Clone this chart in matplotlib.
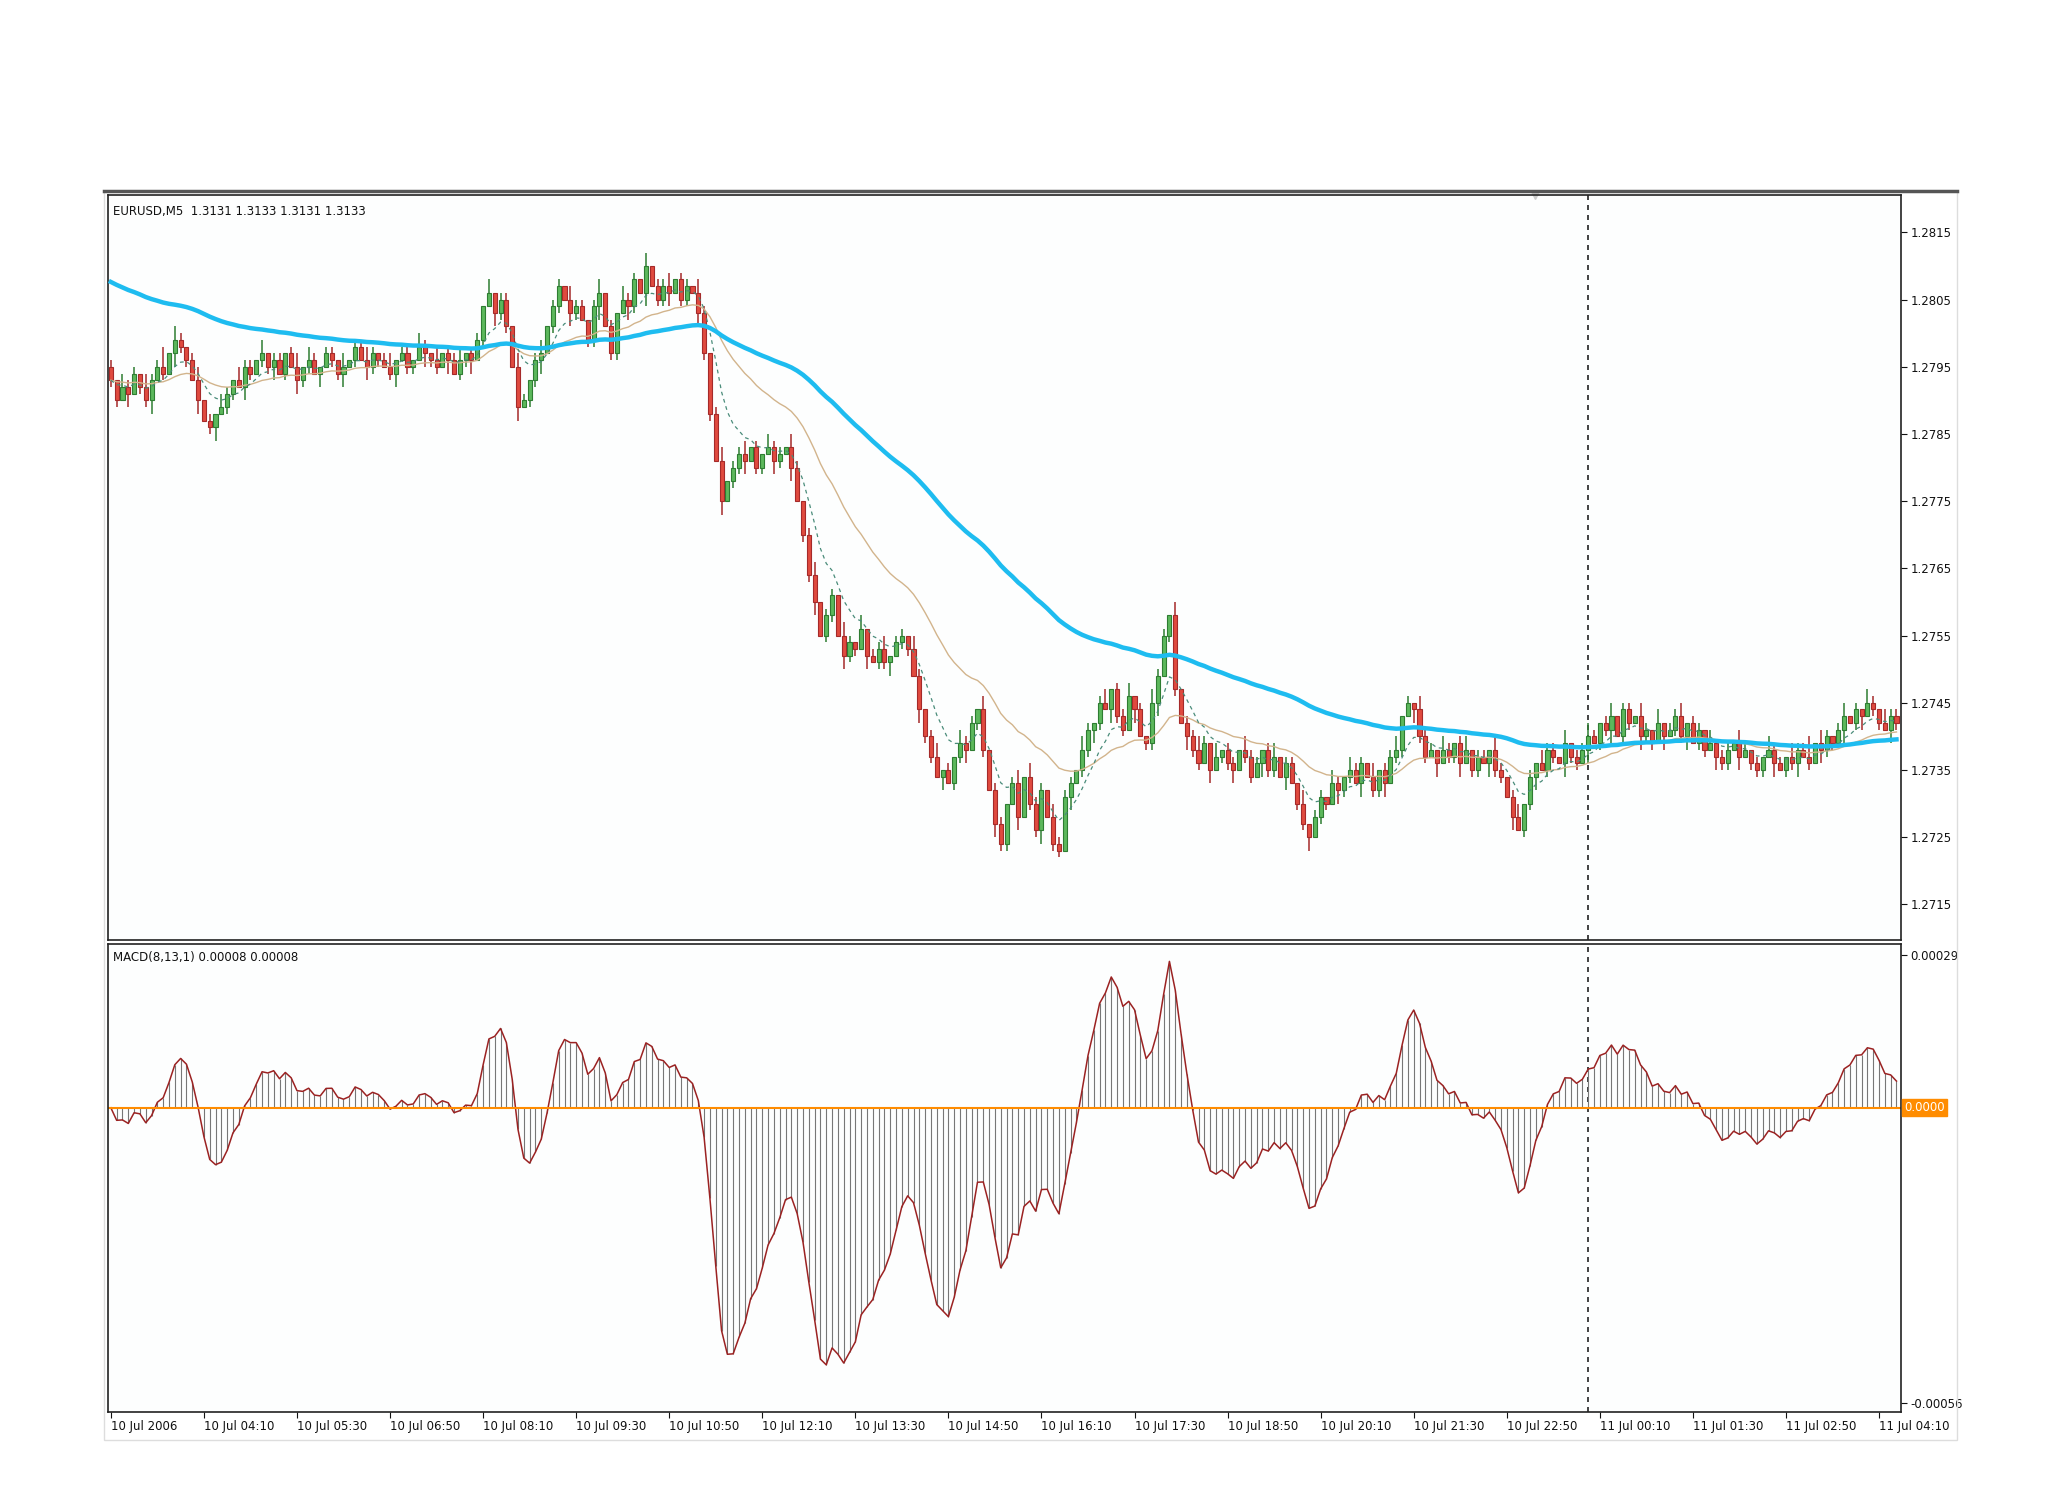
import numpy as np
import pandas as pd
import matplotlib
matplotlib.use("Agg")
import matplotlib.pyplot as plt
from matplotlib.patches import Rectangle

# closes in pips above 1.2700
CLOSES = [93,90,92,91,94,92,90,93,95,94,97,99,98,
          96,93,90,87,86,88,
          89,91,93,92,95,94,96,97,
          95,96,94,97,95,93,95,96,94,95,97,96,94,95,96,98,96,95,97,96,95,94,96,97,95,96,98,97,96,95,97,96,94,96,97,96,
          99,104,106,103,105,101,
          95,89,90,
          93,96,97,
          101,104,107,105,103,104,
          102,99,104,106,101,97,103,105,104,108,106,110,107,105,107,106,108,105,107,106,103,
          97,88,81,
          75,78,80,82,81,83,80,82,83,81,82,83,80,
          75,70,64,60,55,58,
          61,55,52,54,53,56,52,51,53,51,52,54,55,53,
          49,44,40,37,34,35,33,
          37,39,38,42,44,
          38,32,27,24,30,33,28,34,30,26,32,28,24,
          23,31,33,35,38,41,42,45,44,47,43,
          41,46,44,40,39,45,49,55,
          58,47,42,40,
          38,36,39,35,37,38,36,35,38,37,34,36,38,35,37,34,36,33,
          30,27,25,28,
          31,30,33,32,34,35,33,36,34,32,35,33,37,38,
          43,45,44,
          40,37,38,36,38,37,39,36,38,35,37,36,38,35,34,
          31,28,26,30,
          34,36,35,38,37,36,39,37,36,38,
          40,39,42,41,43,40,44,42,43,40,41,39,42,40,41,43,40,42,39,41,
          38,39,37,36,38,39,37,38,36,35,37,38,36,35,37,36,38,37,36,39,38,
          40,39,41,43,42,44,43,45,44,42,41,43,42]
UP_WICKS = "1021102113021012010210211020110120210110201121012011021020112011020110210120110211" \
           "0120102110201120110210120112010211021012011021020112011021012010211020110120211021" \
           "1102101201120102110201121020110211012011020110210211020112010211021012011021012010" \
           "2110201121012011021020112011020110210"
DN_WICKS = "1102011201021102012011021011201021102011201021101201102110201120102110201120110210" \
           "1120110210201120110211020112011021020112011021102011201102110201120110211020112011" \
           "0201121021102011201102110201120110211020112011021102011201102110201120110211020112" \
           "0110211020112011021102011201102110201"
BLUE_START = 108.0
TIME_LABELS = ["10 Jul 2006", "10 Jul 04:10", "10 Jul 05:30", "10 Jul 06:50", "10 Jul 08:10",
               "10 Jul 09:30", "10 Jul 10:50", "10 Jul 12:10", "10 Jul 13:30", "10 Jul 14:50",
               "10 Jul 16:10", "10 Jul 17:30", "10 Jul 18:50", "10 Jul 20:10", "10 Jul 21:30",
               "10 Jul 22:50", "11 Jul 00:10", "11 Jul 01:30", "11 Jul 02:50", "11 Jul 04:10"]
PRICE_TICKS = [1.2715, 1.2725, 1.2735, 1.2745, 1.2755, 1.2765, 1.2775, 1.2785, 1.2795, 1.2805, 1.2815]
DAY_BREAK = 254

N = len(CLOSES)
c = 1.27 + np.array(CLOSES) / 10000.0
o = np.concatenate([[c[0] + 0.0002], c[:-1]])
uw = np.array([int(ch) for ch in (UP_WICKS * 2)[:N]]) / 10000.0
dw = np.array([int(ch) for ch in (DN_WICKS * 2)[:N]]) / 10000.0
h = np.maximum(o, c) + uw
l = np.minimum(o, c) - dw
x = np.arange(N)

s = pd.Series(c)
ema_fast = s.ewm(span=8, adjust=False).mean()
ema_mid = s.ewm(span=26, adjust=False).mean()
blue = np.zeros(N)
alpha = 2 / 81
prev = 1.27 + BLUE_START / 10000.0
for i in range(N):
    prev = prev + alpha * (c[i] - prev)
    blue[i] = prev
macd = (s.ewm(span=8, adjust=False).mean() - s.ewm(span=13, adjust=False).mean()).values

plt.rcParams['font.family'] = ['DejaVu Sans']
fig = plt.figure(figsize=(20.48, 14.92), dpi=100)
fig.patch.set_facecolor('white')
L, R = 0.0527, 0.928
ax1 = fig.add_axes([L, 0.370, R - L, 0.499])
ax2 = fig.add_axes([L, 0.0536, R - L, 0.3135])
for ax in (ax1, ax2):
    ax.set_facecolor('#fdfefe')
    for sp in ax.spines.values():
        sp.set_color('#222222'); sp.set_linewidth(1.2)
    ax.set_xlim(-0.5, N - 0.3)
    ax.yaxis.tick_right()
    ax.tick_params(axis='y', labelsize=8.5, length=4, pad=3, colors='#111111')
    ax.axvline(DAY_BREAK, color='#222222', lw=1.2, ls=(0, (3, 3)))

fig.add_artist(Rectangle((0.0508, 0.035), 0.905, 0.837, transform=fig.transFigure,
                         fill=False, ec='#dddddd', lw=1))
fig.add_artist(plt.Line2D([0.0508, 0.9558], [0.872, 0.872], transform=fig.transFigure,
                          color='#555555', lw=2.5))

bw = 0.7
for i in range(N):
    up = c[i] >= o[i]
    fc = '#5cb85c' if up else '#e04a3f'
    ec = '#2e7d32' if up else '#a52a2a'
    ax1.vlines(x[i], l[i], h[i], color=ec, lw=1.1, zorder=2)
    bot = min(o[i], c[i]); ht = abs(c[i] - o[i])
    if ht < 1e-9:
        ax1.hlines(c[i], x[i] - bw / 2, x[i] + bw / 2, color=ec, lw=1.3, zorder=3)
    else:
        ax1.add_patch(Rectangle((x[i] - bw / 2, bot), bw, ht, fc=fc, ec=ec, lw=0.8, zorder=3))
ax1.plot(x, ema_mid, color='#d2b48c', lw=1.0, zorder=4)
ax1.plot(x, ema_fast, color='#4a8c7a', lw=0.9, ls=(0, (3, 3)), zorder=4)
ax1.plot(x, blue, color='#1ebcf0', lw=3.2, zorder=5)
ax1.set_ylim(1.27097, 1.28205)
ax1.set_yticks(PRICE_TICKS)
ax1.set_yticklabels([f"{v:.4f}" for v in PRICE_TICKS])
ax1.set_xticks([])
ax1.text(0.003, 0.987, "EURUSD,M5  1.3131 1.3133 1.3131 1.3133", transform=ax1.transAxes,
         fontsize=8.5, va='top', ha='left', color='#111111')
ax1.plot([N * 0.795], [1.28205], marker='v', color='#cccccc', ms=6, clip_on=False)

ax2.vlines(x, 0, macd, color='#777777', lw=0.8)
ax2.plot(x, macd, color='#9b2222', lw=1.1)
ax2.axhline(0, color='#ff8c00', lw=1.5)
ax2.set_ylim(-0.000577, 0.00031)
ax2.set_yticks([0.00029, -0.00056])
ax2.set_yticklabels(["0.00029", "-0.00056"])
ax2.text(1.002, 0.0, "0.0000", transform=ax2.get_yaxis_transform(), fontsize=8.5, color='white',
         va='center', ha='left', bbox=dict(fc='#ff8c00', ec='#ff8c00', pad=1.5))
ax2.text(0.003, 0.985, "MACD(8,13,1) 0.00008 0.00008", transform=ax2.transAxes,
         fontsize=8.5, va='top', ha='left', color='#111111')
ax2.set_xticks(np.arange(len(TIME_LABELS)) * 16)
ax2.set_xticklabels(TIME_LABELS, fontsize=8.5, ha='left')
ax2.tick_params(axis='x', length=4, pad=2, colors='#111111')

fig.savefig("out.png", dpi=100, facecolor='white')
